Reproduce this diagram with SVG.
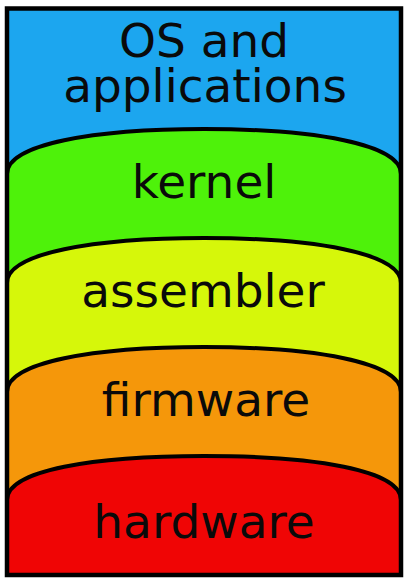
<svg xmlns="http://www.w3.org/2000/svg" width="409" height="585" viewBox="0 0 409 585">
  <style>
    .layer { stroke: #000; stroke-width: 4; }
    .lbl { font-family: "DejaVu Sans", Verdana, sans-serif; font-size: 47px; fill: #0a0a0a; text-anchor: middle; }
  </style>
  <rect x="0" y="0" width="409" height="585" fill="#ffffff"/>
  <g id="os">
    <rect x="7" y="8.5" width="394" height="566.5" fill="#1ca6ef"/>
    <text class="lbl" x="204" y="57" font-size="48">OS and</text>
    <text class="lbl" x="205" y="102" font-size="48">applications</text>
  </g>
  <g id="kernel">
    <path class="layer" fill="#4ef20a" d="M 7 575 L 7 174 C 7 144, 94 129, 204 129 C 314 129, 401 144, 401 174 L 401 575 Z"/>
    <text class="lbl" x="204" y="198">kernel</text>
  </g>
  <g id="assembler">
    <path class="layer" fill="#d6f70a" d="M 7 575 L 7 283 C 7 253, 94 238, 204 238 C 314 238, 401 253, 401 283 L 401 575 Z"/>
    <text class="lbl" x="203" y="307">assembler</text>
  </g>
  <g id="firmware">
    <path class="layer" fill="#f5970a" d="M 7 575 L 7 392 C 7 362, 94 347, 204 347 C 314 347, 401 362, 401 392 L 401 575 Z"/>
    <text class="lbl" x="206" y="416">firmware</text>
  </g>
  <g id="hardware">
    <path class="layer" fill="#f00505" d="M 7 575 L 7 500 C 7 470, 94 456, 204 456 C 314 456, 401 470, 401 500 L 401 575 Z"/>
    <text class="lbl" x="204" y="538">hardware</text>
  </g>
  <g id="connectors"></g>
  <rect x="7" y="8.5" width="394" height="566.5" fill="none" stroke="#000" stroke-width="4.5"/>
</svg>
